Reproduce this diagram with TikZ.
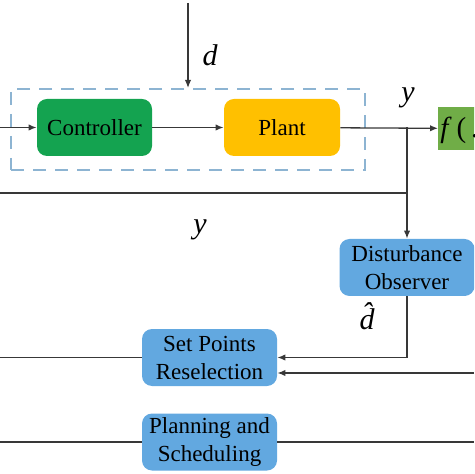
\documentclass[tikz,border=0pt]{standalone}
\usepackage{fontspec}
\setmainfont{Liberation Serif}
\usepackage{xcolor}
\usepackage{tikz}
\usetikzlibrary{arrows.meta,positioning,calc}
\definecolor{ctrlgreen}{HTML}{14A350}
\definecolor{plantorange}{HTML}{FFC000}
\definecolor{fgreen}{HTML}{70AD47}
\definecolor{obsblue}{HTML}{62A8E0}
\definecolor{loopdash}{HTML}{8DB4D2}
\definecolor{wire}{HTML}{383838}
\tikzset{
  blk/.style={rectangle,rounded corners=5pt,inner sep=1pt,align=center,
    font=\fontsize{11.5}{14}\selectfont,minimum height=28.5pt},
  ctrlblk/.style={blk,fill=ctrlgreen,minimum width=57.5pt},
  plantblk/.style={blk,fill=plantorange,minimum width=58pt},
  obsblk/.style={blk,fill=obsblue,minimum width=67.5pt},
  fblk/.style={rectangle,fill=fgreen,minimum width=36pt,minimum height=21.5pt,inner sep=0pt},
  loopbox/.style={rectangle,draw=loopdash,line width=1pt,dash pattern=on 6.5pt off 4.5pt,
    minimum width=177pt,minimum height=40.5pt},
  sig/.style={draw=wire,line width=.65pt},
  sigarr/.style={sig,-{Latex[length=4pt,width=3.2pt]}},
  lab/.style={font=\fontsize{15}{15}\selectfont\itshape}
}
\begin{document}
\begin{tikzpicture}[x=.5pt,y=.5pt]
  \useasboundingbox (0,0) rectangle (474,-474);
  \clip (0,0) rectangle (474,-474);

  \node[loopbox] (loop) at (188,-129.5) {};
  \node[ctrlblk] (ctrl) at (94.5,-127.5) {Controller};
  \node[plantblk] (plant) at (282,-127.5) {Plant};
  \node[fblk,anchor=west] (f) at (438,-128.5) {};
  \node[font=\fontsize{14.5}{15}\selectfont,anchor=base west,inner sep=0pt] (ftxt)
    at (440,-138) {\textit{f}\,(\,.};
  \node[obsblk] (obs) at (407,-267.5) {Disturbance\\Observer};
  \node[obsblk] (sp) at (209.5,-357.5) {Set Points\\Reselection};
  \node[obsblk] (plan) at (209.5,-442) {Planning and\\Scheduling};

  \coordinate (in) at (0,-127.5);
  \coordinate (dtop) at (188,-3);
  \coordinate (br) at (407,-127.5);
  \coordinate (fb) at (407,-193);
  \coordinate (fbend) at (0,-193);
  \coordinate (rin) at (474,-373);
  \coordinate (spout) at (0,-357.5);
  \coordinate (planl) at (0,-442);
  \coordinate (planr) at (474,-442);

  \draw[sigarr] (in) -- (ctrl);
  \draw[sigarr] (ctrl) -- (plant);
  \draw[sigarr] (plant) -- (f);
  \draw[sigarr] (dtop) -- (loop.north);
  \draw[sigarr] (br) -- (obs.north);
  \draw[sig] (fb) -- (fbend);
  \draw[sigarr] (obs.south) |- (sp.east);
  \draw[sigarr] (rin) -- (rin -| sp.east);
  \draw[sig] (sp.west) -- (spout);
  \draw[sig] (planl) -- (plan.west);
  \draw[sig] (plan.east) -- (planr);

  \node[lab] (dlab) at (210,-55) {d};
  \node[lab] (ytop) at (408,-98) {y};
  \node[lab] (ymid) at (200,-230) {y};
  \node[lab] (dhat) at (367,-316) {\^{d}};
\end{tikzpicture}
\end{document}
